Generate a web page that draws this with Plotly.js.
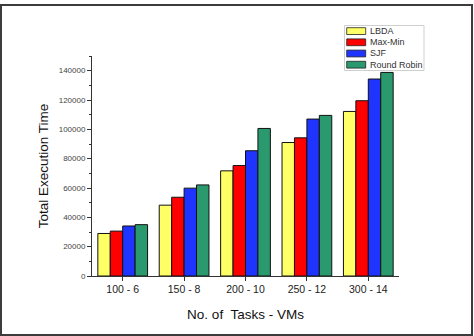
<!DOCTYPE html>
<html>
<head>
<meta charset="utf-8">
<script src="https://cdn.plot.ly/plotly-3.0.1.min.js"></script>
<style>
  html, body { margin: 0; padding: 0; background: #fff; }
  #wrap { position: relative; width: 474px; height: 336px; }
  #chart { width: 474px; height: 336px; }
  #frame { position: absolute; left: 0; top: 4px; width: 473px; height: 332px;
           box-sizing: border-box; border: 2px solid #3c3c3c; pointer-events: none; }
</style>
</head>
<body>
<div id="wrap">
  <div id="chart"></div>
  <div id="frame"></div>
</div>
<script>
const categories = ["100 - 6", "150 - 8", "200 - 10", "250 - 12", "300 - 14"];
const seriesNames = ["LBDA", "Max-Min", "SJF", "Round Robin"];
const lbda       = [29000, 48300, 71700, 91000, 112200];
const maxMin     = [30600, 53700, 75300, 94200, 119500];
const sjf        = [34100, 59900, 85400, 107000, 134300];
const roundRobin = [35000, 62100, 100600, 109500, 138800];
const seriesValues = [lbda, maxMin, sjf, roundRobin];
const yTickVals = [0, 20000, 40000, 60000, 80000, 100000, 120000, 140000];
const yTickText = ["0", "20000", "40000", "60000", "80000", "100000", "120000", "140000"];
const colors = ["#FFFF66", "#FF0000", "#1F35FF", "#2A9A6E"];

const M = { l: 92, r: 75, t: 56, b: 60 };
const W = 474, H = 336;
const pw = W - M.l - M.r, ph = H - M.t - M.b;
const px = x => (x - M.l) / pw;
const py = y => (H - M.b - y) / ph;

const traces = seriesNames.map((name, i) => ({
  type: "bar",
  name: name,
  x: categories,
  y: seriesValues[i],
  marker: { color: colors[i], line: { color: "#111", width: 1 } },
  showlegend: false
}));

// custom legend (box, swatches, labels)
const shapes = [{
  type: "rect", xref: "paper", yref: "paper",
  x0: px(344.5), x1: px(424), y0: py(25.5), y1: py(70.5),
  line: { color: "#cfcfcf", width: 1 }, fillcolor: "#fff", layer: "above"
}];
const annotations = [];
seriesNames.forEach((name, i) => {
  const top = 27.7 + i * 11.2;
  shapes.push({
    type: "rect", xref: "paper", yref: "paper",
    x0: px(346.7), x1: px(365.7), y0: py(top), y1: py(top + 6.8),
    fillcolor: colors[i], line: { color: "#222", width: 0.8 }, layer: "above"
  });
  annotations.push({
    xref: "paper", yref: "paper", x: px(367.5), y: py(top + 3.4),
    xanchor: "left", yanchor: "middle", showarrow: false, text: name,
    font: { family: "Liberation Sans, Arial, sans-serif", size: 9, color: "#333" }
  });
});

const layout = {
  width: W, height: H,
  margin: M,
  paper_bgcolor: "#fff", plot_bgcolor: "#fff",
  barmode: "group", bargap: 0.19, bargroupgap: 0,
  font: { family: "Liberation Sans, Arial, sans-serif", color: "#222" },
  xaxis: {
    type: "category",
    range: [-0.5, 4.5],
    showline: true, linecolor: "#333", linewidth: 1,
    ticks: "outside", ticklen: 4, tickcolor: "#333",
    showgrid: false, zeroline: false,
    tickfont: { size: 10.5, color: "#222" },
    ticklabelstandoff: -1,
    title: { text: "No. of&nbsp; Tasks - VMs", font: { size: 13.5, color: "#111" }, standoff: 15 }
  },
  yaxis: {
    range: [0, 150000],
    tickmode: "array",
    tickvals: yTickVals,
    ticktext: yTickText,
    showline: true, linecolor: "#333", linewidth: 1,
    ticks: "outside", ticklen: 4, tickcolor: "#333",
    minor: { dtick: 10000, tick0: 0, ticks: "outside", ticklen: 2, tickcolor: "#333", showgrid: false },
    showgrid: false, zeroline: false,
    tickfont: { size: 8, color: "#444" },
    title: { text: "Total Execution Time", font: { size: 13.5, color: "#111" }, standoff: 6 }
  },
  shapes: shapes,
  annotations: annotations,
  showlegend: false
};

Plotly.newPlot("chart", traces, layout, { staticPlot: true, displayModeBar: false });
</script>
</body>
</html>
